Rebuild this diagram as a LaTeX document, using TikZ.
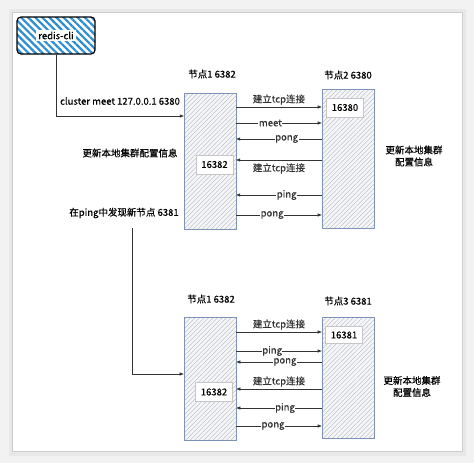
\documentclass[tikz,border=0pt]{standalone}
\usepackage{fontspec}
\setmainfont{Noto Sans CJK SC}[FakeBold=0.4]
\usetikzlibrary{patterns, patterns.meta, arrows.meta}
\definecolor{slate}{HTML}{7F93B8}
\definecolor{paleblue}{HTML}{F4F6FA}
\definecolor{cliblue}{HTML}{2D8ED4}

\begin{document}
\begin{tikzpicture}[x=1pt, y=-1pt, font=\fontsize{9.5}{12}\selectfont,
    server/.style={draw=slate, line width=0.6pt, preaction={fill=paleblue},
      pattern={Lines[angle=45, distance=3.2pt, line width=0.35pt]}, pattern color=gray!60,
      minimum width=52pt, inner sep=0pt},
    port/.style={draw=gray!45, fill=white, minimum width=37pt, minimum height=19pt, inner sep=0pt},
    msg/.style={-{Triangle[length=4pt, width=3pt]}, line width=0.6pt, black!80},
    onl/.style={fill=white, inner sep=0.5pt},
    abv/.style={midway, above, inner sep=2pt}]
  % panel
  \fill[gray!10] (0,0) rectangle (474,463);
  \fill[gray!18] (9,9) rectangle (466,456);
  \fill[white, draw=gray!40, line width=0.4pt] (12,12) rectangle (462,451);

  % redis-cli
  \node[draw=black, line width=1.2pt, rounded corners=4pt, preaction={fill=white},
    pattern={Lines[angle=-45, distance=5pt, line width=2.2pt]}, pattern color=cliblue,
    minimum width=78pt, minimum height=37pt] (cli) at (56,35.5) {};
  \node[fill=white, inner sep=2pt] (clitxt) at (cli) {redis-cli};

  % first meet
  \node[server, minimum height=136pt] (n1a) at (210,161) {};
  \node[server, minimum height=139pt] (n2) at (348,158.5) {};
  \node[port] (p1a) at (214.5,164.5) {16382};
  \node[port] (p2) at (345,107.5) {16380};
  \node (t1a) at (212,74) {节点1 6382};
  \node (t2) at (348,75) {节点2 6380};
  \node (meet) at (120,101) {cluster meet 127.0.0.1 6380};
  \node (upd1a) at (130,153) {更新本地集群配置信息};
  \node[align=center] (upd2) at (414,156) {更新本地集群\\配置信息};

  \draw[msg] (cli.south) |- (n1a.west |- 0,116);
  \draw[msg] (n1a.east |- 0,107) -- (n2.west |- 0,107) node[abv] {建立tcp连接};
  \draw[msg] (n1a.east |- 0,123) -- (n2.west |- 0,123) node[onl, pos=.4] {meet};
  \draw[msg] (n2.west |- 0,139) -- (n1a.east |- 0,139) node[onl, pos=.41] {pong};
  \draw[msg] (n2.west |- 0,160) -- (n1a.east |- 0,160) node[midway, below, inner sep=3pt] {建立tcp连接};
  \draw[msg] (n2.west |- 0,195) -- (n1a.east |- 0,195) node[onl, pos=.41] {ping};
  \draw[msg] (n1a.east |- 0,215) -- (n2.west |- 0,215) node[onl, pos=.42] {pong};

  % new node found in ping
  \node (found) at (124,213) {在ping中发现新节点 6381};
  \coordinate (drop) at (132,228);
  \node[server, minimum height=123pt] (n1b) at (210,378.5) {};
  \node[server, minimum height=121pt] (n3) at (348,377.5) {};
  \node[port] (p1b) at (214,392) {16382};
  \node[port, minimum height=17pt] (p3) at (344,335) {16381};
  \node (t1b) at (211,299) {节点1 6382};
  \node (t3) at (348,301) {节点3 6381};
  \node[align=center] (upd3) at (412,386.5) {更新本地集群\\配置信息};

  \draw[msg] (drop) |- (n1b.west |- 0,374);
  \draw[msg] (n1b.east |- 0,332) -- (n3.west |- 0,332) node[abv] {建立tcp连接};
  \draw[msg] (n1b.east |- 0,351) -- (n3.west |- 0,351) node[onl, pos=.42] {ping};
  \draw[msg] (n3.west |- 0,362) -- (n1b.east |- 0,362) node[onl, pos=.43] {pong};
  \draw[msg] (n3.west |- 0,389) -- (n1b.east |- 0,389) node[abv] {建立tcp连接};
  \draw[msg] (n3.west |- 0,408) -- (n1b.east |- 0,408) node[onl, pos=.43] {ping};
  \draw[msg] (n1b.east |- 0,426) -- (n3.west |- 0,426) node[onl, pos=.43] {pong};
\end{tikzpicture}
\end{document}
